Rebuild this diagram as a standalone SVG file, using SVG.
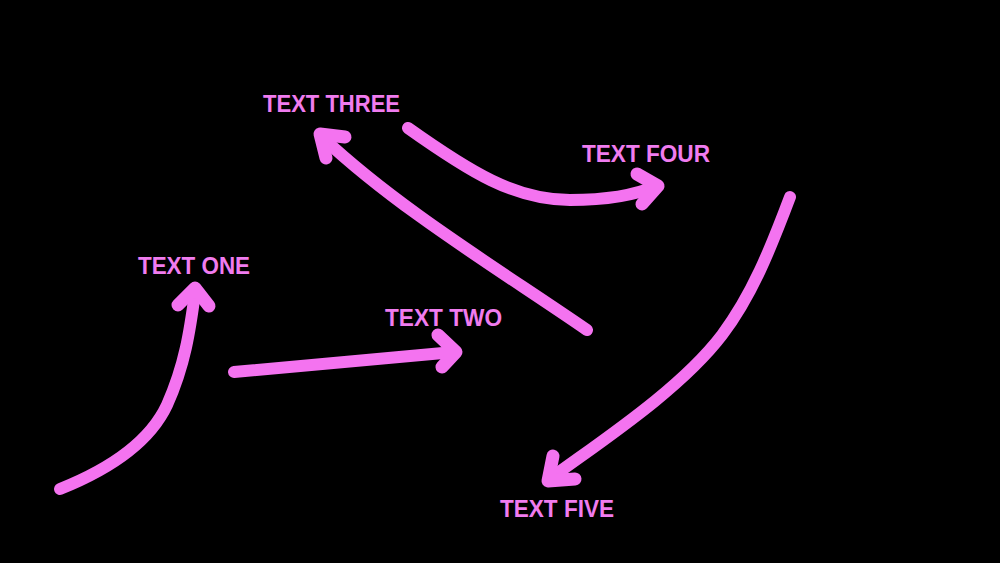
<svg xmlns="http://www.w3.org/2000/svg" width="1000" height="563" viewBox="0 0 1000 563">
<style>
.c{fill:none;stroke:#F473F0;stroke-width:12;stroke-linecap:round;stroke-linejoin:round}
.h{stroke-width:13}
.t{font-family:"Liberation Sans",Arial,sans-serif;font-weight:bold;font-size:24px;fill:#F07CEF}
</style>
<rect width="1000" height="563" fill="#000"/>
<g id="connectors">
<path class="c" d="M60,489 C120,465 152,437 167,405 C185,365 190,330 195,293"/>
<path class="c h" d="M178,305 L195,288 L209,306"/>
<path class="c" d="M234,372 L454,352"/>
<path class="c h" d="M438,335 L456,352 L442,367"/>
<path class="c" d="M587,330 C500,270 400,210 323,138"/>
<path class="c h" d="M326,158 L320,134 L345,137"/>
<path class="c" d="M408,128 C470,172 515,200 570,200 C612,200 640,193 656,186"/>
<path class="c h" d="M637,174 L658,186 L642,204"/>
<path class="c" d="M790,197 C770,250 752,295 722,335 C680,390 600,442 551,478"/>
<path class="c h" d="M553,456 L548,481 L575,479"/>
</g>
<g id="n1"><text class="t" x="138" y="274" textLength="112" lengthAdjust="spacingAndGlyphs">TEXT ONE</text></g>
<g id="n2"><text class="t" x="385" y="326" textLength="117" lengthAdjust="spacingAndGlyphs">TEXT TWO</text></g>
<g id="n3"><text class="t" x="263" y="112" textLength="137" lengthAdjust="spacingAndGlyphs">TEXT THREE</text></g>
<g id="n4"><text class="t" x="582" y="162" textLength="128" lengthAdjust="spacingAndGlyphs">TEXT FOUR</text></g>
<g id="n5"><text class="t" x="500" y="517" textLength="114" lengthAdjust="spacingAndGlyphs">TEXT FIVE</text></g>
</svg>
